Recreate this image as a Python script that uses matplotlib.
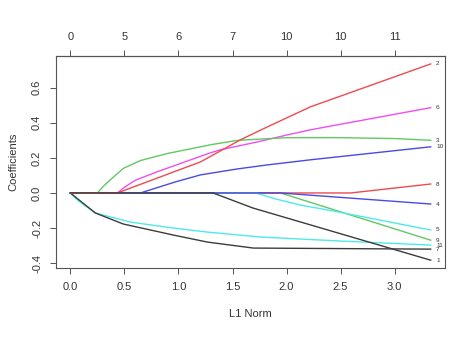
import matplotlib
matplotlib.use("Agg")
import matplotlib.pyplot as plt

plt.rcParams['font.family'] = ['Liberation Sans', 'DejaVu Sans']

# Lasso coefficient paths: knots of (L1 norm, coefficient) for each variable
l1_1 = [0, 1.32, 1.69, 3.333]
coef_1 = [0, 0, -0.086, -0.383]
l1_2 = [0, 0.435, 1.204, 1.574, 1.824, 2.222, 3.333]
coef_2 = [0, 0, 0.177, 0.303, 0.377, 0.491, 0.735]
l1_3 = [0, 0.25, 0.3, 0.37, 0.49, 0.65, 0.9, 1.3, 1.55, 2.0, 2.5, 3.0, 3.333]
coef_3 = [0, 0, 0.035, 0.075, 0.14, 0.185, 0.225, 0.275, 0.3, 0.315, 0.315, 0.31, 0.30]
l1_4 = [0, 1.944, 3.333]
coef_4 = [0, 0, -0.063]
l1_5 = [0, 1.713, 1.898, 2.13, 2.435, 3.333]
coef_5 = [0, 0, -0.034, -0.069, -0.103, -0.211]
l1_6 = [0, 0.435, 0.5, 0.6, 0.8, 1.296, 1.389, 1.731, 2.009, 2.222, 3.333]
coef_6 = [0, 0, 0.032, 0.072, 0.12, 0.229, 0.246, 0.291, 0.331, 0.36, 0.486]
l1_7 = [0, 0.231, 0.49, 0.954, 1.269, 1.694, 3.333]
coef_7 = [0, -0.114, -0.177, -0.24, -0.28, -0.314, -0.32]
l1_8 = [0, 2.593, 3.333]
coef_8 = [0, 0, 0.051]
l1_9 = [0, 1.944, 3.333]
coef_9 = [0, 0, -0.269]
l1_10 = [0, 0.648, 0.972, 1.204, 1.546, 1.824, 2.222, 3.333]
coef_10 = [0, 0, 0.063, 0.103, 0.137, 0.16, 0.189, 0.263]
l1_11 = [0, 0.074, 0.231, 0.556, 0.954, 1.269, 1.759, 2.5, 3.333]
coef_11 = [0, -0.045, -0.114, -0.166, -0.2, -0.223, -0.251, -0.274, -0.297]

var_names = ["1", "2", "3", "4", "5", "6", "7", "8", "9", "10", "11"]
path_l1 = [l1_1, l1_2, l1_3, l1_4, l1_5, l1_6, l1_7, l1_8, l1_9, l1_10, l1_11]
path_coef = [coef_1, coef_2, coef_3, coef_4, coef_5, coef_6, coef_7, coef_8, coef_9, coef_10, coef_11]

# Number of nonzero coefficients shown along the top axis
top_ticks = [0.0, 0.5, 1.0, 1.5, 2.0, 2.5, 3.0]
top_labels = ["0", "5", "6", "7", "10", "10", "11"]
bottom_ticks = [0.0, 0.5, 1.0, 1.5, 2.0, 2.5, 3.0]
y_ticks = [-0.4, -0.2, 0.0, 0.2, 0.4, 0.6]

palette = ["#3c3c3c", "#ee4b4f", "#62c862", "#4a4ae2", "#4eeaea", "#f04ef0"]

fig = plt.figure(figsize=(4.74, 3.38), dpi=100)
ax = fig.add_axes([0.118, 0.207, 0.821, 0.627])

# Draw in reverse so the low-index paths sit on top
order = list(range(len(var_names)))[::-1]
for i in order:
    ax.plot(path_l1[i], path_coef[i], color=palette[i % 6], lw=1.0,
            solid_joinstyle='round', zorder=3 + (len(var_names) - i) * 0.01)

xmax = max(max(p) for p in path_l1)
for name, l1, c in zip(var_names, path_l1, path_coef):
    ax.text(l1[-1] + 0.05, c[-1], name, fontsize=4.6, color="#333333",
            va='center', ha='left')

all_vals = [v for c in path_coef for v in c]
ymin, ymax = min(all_vals), max(all_vals)
pad_y = 0.04 * (ymax - ymin)
pad_x = 0.04 * xmax
ax.set_xlim(-pad_x, xmax + pad_x)
ax.set_ylim(ymin - pad_y, ymax + pad_y)

ax.set_xticks(bottom_ticks)
ax.set_xticklabels([f"{t:.1f}" for t in bottom_ticks])
ax.set_yticks(y_ticks)
ax.set_yticklabels([f"{t:.1f}" for t in y_ticks], rotation=90, va='center')

edge = "#555555"
for s in ax.spines.values():
    s.set_color(edge)
    s.set_linewidth(0.8)
ax.tick_params(direction='out', length=4, width=0.7, color=edge,
               labelsize=8, labelcolor="#333333", pad=6)

top = ax.secondary_xaxis('top')
top.set_xticks(top_ticks)
top.set_xticklabels(top_labels)
top.tick_params(direction='out', length=4, width=0.7, color=edge,
                labelsize=8, labelcolor="#333333", pad=6)
top.spines['top'].set_color(edge)

ax.set_xlabel("L1 Norm", fontsize=8, color="#333333", labelpad=12)
ax.set_ylabel("Coefficients", fontsize=8, color="#333333", labelpad=10)

fig.savefig("out.png", dpi=100)
